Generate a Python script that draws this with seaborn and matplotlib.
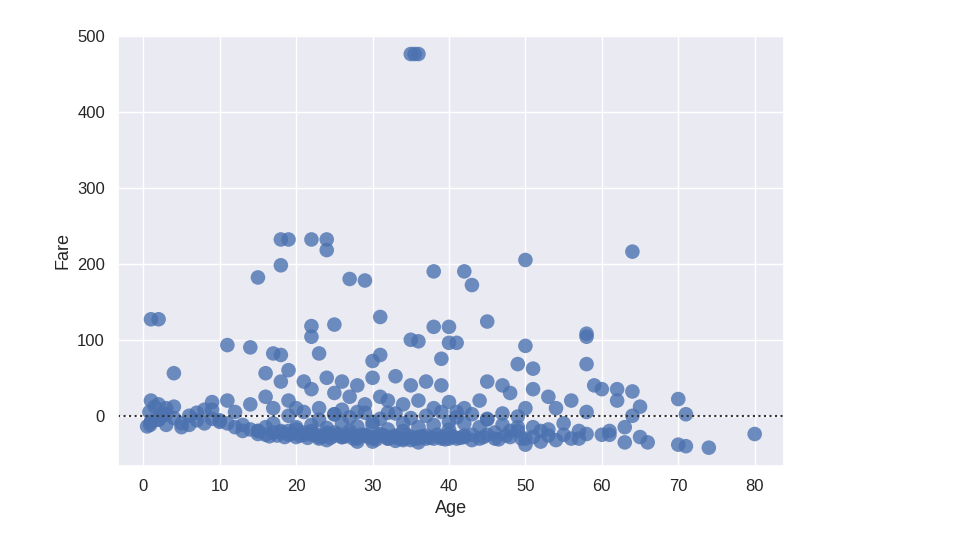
import matplotlib
matplotlib.use("Agg")
import matplotlib.pyplot as plt
import seaborn as sns

# (Age, Fare residual) pairs
points = [
    (35, 476), (35.5, 476), (36, 476), (18, 232), (19, 232), (22, 232), (24, 232),
    (24, 218), (18, 198), (15, 182), (27, 180), (29, 178), (38, 190), (42, 190),
    (43, 172), (50, 205), (64, 216), (1, 127), (2, 127), (31, 130), (45, 124),
    (25, 120), (38, 117), (40, 117), (22, 118), (22, 104), (11, 93), (14, 90),
    (40, 96), (41, 96), (50, 92), (35, 100), (36, 98), (23, 82), (17, 82), (18, 80),
    (19, 60), (30, 72), (31, 80), (39, 75), (58, 108), (58, 104), (58, 68),
    (49, 68), (51, 62), (4, 56), (16, 56), (45, 45), (60, 35), (62, 35), (64, 32),
    (70, 22), (65, 12), (74, -42), (80, -24), (71, -40), (70, -38), (71, 2),
    (0.5, -14), (0.8, 5), (1, 20), (1, -8), (1.5, 12), (2, -5), (2, 15), (3, 10),
    (3, -12), (4, 12), (4, -3), (5, -10), (6, 0), (7, -6), (8, 8), (9, -4), (9, 18),
    (10, -8), (11, 20), (12, 5), (13, -12), (14, 15), (14, -18), (15, -20),
    (16, 25), (16, -15), (17, 10), (17, -22), (18, 45), (18, -20), (19, 20),
    (19, -25), (20, -15), (20, 10), (21, -25), (21, 45), (22, -20), (22, 35),
    (23, -28), (23, 10), (24, -25), (24, 50), (25, -22), (25, 30), (26, -28),
    (26, 45), (27, -20), (27, 25), (28, -28), (28, 40), (29, -25), (29, 15),
    (30, -30), (30, 50), (31, -26), (31, 25), (32, -30), (32, 20), (33, -28),
    (33, 52), (34, -30), (34, 15), (35, -32), (35, 40), (36, -28), (36, 20),
    (37, -30), (37, 45), (38, -30), (38, 10), (39, -28), (39, 40), (40, -30),
    (40, 18), (41, -30), (41, 5), (42, -28), (42, 10), (43, -32), (44, 20),
    (45, -25), (45, -5), (46, -30), (47, 40), (48, -20), (48, 30), (49, -15),
    (50, 10), (50, -38), (51, 35), (52, -20), (53, 25), (54, 10), (55, -25),
    (56, 20), (57, -30), (58, 5), (59, 40), (60, -25), (61, -20), (62, 20),
    (63, -15), (64, 0), (65, -28), (66, -35),
    (16, -25), (18, -22), (19, -20), (20, -28), (21, -22), (22, -25), (23, -30),
    (24, -22), (25, -26), (26, -28), (27, -24), (28, -30), (29, -26), (30, -28),
    (31, -24), (32, -30), (33, -26), (34, -32), (35, -28), (36, -30), (37, -26),
    (39, -30), (40, -24), (42, -26), (44, -30), (46, -22), (48, -28), (50, -30),
    (52, -34), (54, -32), (56, -30), (58, -24),
    (1, -8), (2, -5), (3, 2), (5, -15), (8, -10), (10, -6), (12, -15), (15, -20),
    (17, -10), (20, -18), (22, -12), (24, -16), (26, -10), (28, -14), (30, -12),
    (32, -18), (34, -10), (36, -15), (38, -12), (40, -18), (42, -10), (44, -15),
    (47, -12), (49, -20), (51, -15), (53, -18), (55, -10), (57, -20), (61, -25),
    (63, -35),
    (19, 0), (21, 5), (23, -5), (25, 2), (27, -2), (29, 4), (31, -4), (33, 3),
    (35, -3), (37, 0), (39, 5), (41, -2), (43, 2), (45, -4), (47, 3), (49, -1),
    (24, -32), (28, -34), (30, -34), (33, -33), (36, -35), (25, 2), (26, 8),
    (30, -8), (32, 4),
    (15, -24), (16.5, -27), (17.5, -26), (18.5, -28), (19.5, -23), (20.5, -26),
    (21.5, -29), (22.5, -24), (23.5, -27), (24.5, -29), (25.5, -24), (26.5, -27),
    (27.5, -30), (28.5, -25), (29.5, -28), (30.5, -31), (31.5, -26), (32.5, -28),
    (33.5, -30), (34.5, -25), (35.5, -30), (36.5, -27), (37.5, -29), (38.5, -25),
    (39.5, -31), (40.5, -27), (41.5, -29), (43, -25), (44.5, -28), (46.5, -31),
    (47.5, -26), (49.5, -30), (51, -28), (53, -26), (13, -20), (11, -10),
    (6, -12), (7, 4), (0.9, -12), (2.5, 0), (9, 8), (28, 5), (34, -20), (40, -8),
]
age = [p[0] for p in points]
fare = [p[1] for p in points]

sns.set_theme(style="darkgrid")
plt.rcParams['font.family'] = ['Liberation Sans', 'DejaVu Sans']
fig, ax = plt.subplots(figsize=(9.76, 5.56), dpi=100)
fig.subplots_adjust(left=0.121, right=0.803, top=0.937, bottom=0.162)
sns.scatterplot(x=age, y=fare, ax=ax, s=110, alpha=0.8, edgecolor="none",
                color=sns.color_palette()[0])
ax.axhline(0, ls=":", c=".2", lw=1.5)
ax.set_xlim(-3.3, 83.8)
ax.set_ylim(-66, 501)
ax.set_xlabel("Age", fontsize=13)
ax.set_ylabel("Fare", fontsize=13)
ax.tick_params(labelsize=12)
fig.savefig("out.png")
